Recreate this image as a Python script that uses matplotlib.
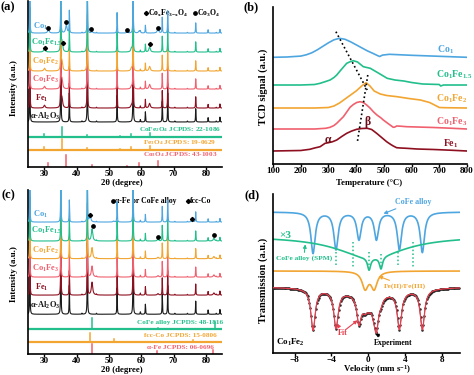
import numpy as np
import matplotlib
matplotlib.use('Agg')
import matplotlib.pyplot as plt

plt.rcParams['font.family'] = ['Liberation Serif', 'DejaVu Serif']
plt.rcParams['font.weight'] = 'bold'
plt.rcParams['mathtext.fontset'] = 'custom'
plt.rcParams['mathtext.rm'] = 'Liberation Serif:bold'
plt.rcParams['mathtext.it'] = 'Liberation Serif:italic:bold'
plt.rcParams['mathtext.bf'] = 'Liberation Serif:bold'
plt.rcParams['mathtext.default'] = 'rm'

# ---------------- data ----------------
samples = ['α-Al$_2$O$_3$', 'Fe$_1$', 'Co$_1$Fe$_3$', 'Co$_1$Fe$_2$', 'Co$_1$Fe$_{1.5}$', 'Co$_1$']
colors = ['#1a1a1a', '#8e1020', '#f0606e', '#f2a531', '#22bf8c', '#4ea6e0']

# alpha-Al2O3 support reflections (2theta, relative height)
support_pos = [25.58, 35.15, 37.78, 41.68, 43.36, 46.18, 52.55, 57.50, 59.74, 61.30,
               66.52, 68.21, 70.42, 74.30, 76.87, 80.70, 83.21, 84.36]
support_h = [2.4, 3.0, 1.2, 0.04, 3.0, 0.04, 1.1, 3.0, 0.1, 0.42,
             0.85, 1.2, 0.04, 0.04, 0.55, 0.18, 0.04, 0.2]
support_scale = [1.3, 1.1, 1.0, 1.0, 1.0, 1.0]

# (a) calcined: spinel and Co3O4 reflections
spinel_pos = [30.1, 35.5, 43.1, 57.0, 62.6]
spinel_h = [[0, 0, 0, 0, 0],
            [0.15, 0.5, 0.08, 0.15, 0.25],
            [0.15, 0.5, 0.08, 0.15, 0.25],
            [0.15, 0.5, 0.08, 0.15, 0.25],
            [0.2, 0.55, 0.1, 0.2, 0.28],
            [0, 0, 0, 0, 0]]
co3o4_pos = [31.3, 36.85, 44.8, 55.7, 59.4, 65.2]
co3o4_h = [[0] * 6, [0] * 6, [0] * 6, [0] * 6, [0] * 6,
           [0.2, 0.45, 0.08, 0.06, 0.12, 0.25]]

# (c) reduced: fcc-Co and bcc (alpha-Fe / CoFe) reflections
fcc_pos = [44.2, 51.5, 75.8]
fcc_h = [[0, 0, 0], [0, 0, 0], [0, 0, 0], [0, 0, 0], [0, 0, 0], [0.35, 0.05, 0.15]]
bcc_pos = [44.8, 65.2, 82.5]
bcc_h = [[0, 0, 0], [0.7, 0.08, 0.12], [0.6, 0.08, 0.12], [0.6, 0.08, 0.12],
         [0.65, 0.1, 0.15], [0, 0, 0]]

# reference patterns
refA_names = ['CoFe$_2$O$_4$ JCPDS: 22-1086', 'Fe$_3$O$_4$ JCPDS: 19-0629', 'Co$_3$O$_4$ JCPDS: 43-1003']
refA_pos = [[30.1, 35.4, 43.1, 53.4, 57.0, 62.6],
            [30.1, 35.4, 43.1, 53.4, 57.0, 62.6],
            [31.3, 36.85, 44.8, 55.7, 59.4, 65.2]]
refA_h = [[0.15, 0.55, 0.1, 0.04, 0.15, 0.2],
          [0.15, 0.6, 0.1, 0.04, 0.15, 0.2],
          [0.2, 0.63, 0.1, 0.05, 0.2, 0.3]]
refC_names = ['CoFe alloy JCPDS: 48-1816', 'fcc-Co JCPDS: 15-0806', 'α-Fe JCPDS: 06-0696']
refC_pos = [[44.9, 65.3, 82.7], [44.2, 51.5, 75.9], [44.7, 65.0, 82.3]]
refC_h = [[0.6, 0.08, 0.4], [0.5, 0.2, 0.13], [0.55, 0.15, 0.2]]
ref_colors = ['#22bf8c', '#f2a531', '#f0606e']

# phase markers
markA_circle_x = [31.3, 36.75, 44.5, 55.5, 65.3]
markA_circle_y = [7.46, 7.81, 7.40, 7.37, 7.46]
markA_diam_x = [30.3, 35.9, 62.7]
markA_diam_y = [6.41, 6.65, 6.60]
markC_diam_x = [44.2, 75.6]
markC_diam_y = [7.54, 7.35]
markC_circle_x = [45.0, 65.3, 82.6]
markC_circle_y = [6.94, 6.36, 6.45]

# (b) H2-TPR
tpr_names = ['Fe$_1$', 'Co$_1$Fe$_3$', 'Co$_1$Fe$_2$', 'Co$_1$Fe$_{1.5}$', 'Co$_1$']
tpr_colors = ['#8e1020', '#f0606e', '#f2a531', '#22bf8c', '#4ea6e0']
tpr_T = [
    [100, 200, 233, 250, 270, 288, 300, 315, 330, 348, 366, 384, 402, 420, 440, 456, 474, 492, 510,
     525, 534, 546, 560, 582, 620, 680, 740, 800],
    [100, 250, 290, 306, 320, 330, 342, 354, 366, 378, 390, 402, 414, 426, 438, 450, 462, 475, 490,
     498, 515, 534, 540, 546, 560, 582, 620, 680, 740, 800],
    [100, 250, 300, 320, 340, 360, 380, 400, 420, 436, 450, 465, 487, 510, 548, 590, 632, 665, 690,
     700, 720, 800],
    [100, 200, 250, 270, 290, 306, 320, 330, 345, 366, 380, 390, 405, 426, 451, 480, 512, 540, 572,
     600, 640, 700, 705, 715, 800],
    [100, 150, 200, 220, 240, 260, 280, 300, 320, 340, 360, 380, 400, 420, 440, 460, 475, 485, 495,
     520, 560, 600, 650, 700, 750, 800],
]
tpr_S = [
    [0, 0.5, 1.7, 3, 4.3, 7.7, 8.3, 9.3, 11, 14.5, 17.7, 20, 21.7, 22.5, 22.7, 21.5, 17.7, 13.5, 9.3,
     6.5, 5, 3.3, 3, 2.7, 2, 1.5, 0.8, 0],
    [0, 0, 0.7, 1.7, 3.5, 5.7, 9, 12.3, 17, 21.7, 24.5, 26.5, 27.3, 26.5, 24, 21, 17.3, 14, 11,
     9, 5.5, 1.7, 2, 3, 2.8, 2.3, 2, 1.5, 0.8, 0],
    [0, 0, 0.5, 2, 5, 9, 13, 17, 22, 25.3, 22, 17, 14, 12.5, 11.3, 9.5, 8, 5.5, 2, 0.5, 0.3, 0],
    [0, 0, 0.5, 1.7, 3.5, 5, 7.5, 10, 15, 21.7, 23.5, 24.3, 23, 18.3, 16.7, 12, 6.7, 5, 4,
     2.5, 1, 0.5, -1, 0, 0],
    [0, 0.3, 1.2, 2.5, 4.5, 7.5, 11, 14.5, 17.5, 19, 18, 15.5, 12.5, 9.5, 6.5, 4, 2, 0.8, 2.2,
     3, 2.5, 2, 1.5, 1, 0.5, 0],
]
tpr_guide1_T = [327, 440]
tpr_guide1_S = [132.3, 74]
tpr_guide2_T = [442, 404]
tpr_guide2_S = [89, 21.3]

# (d) Mossbauer components (velocity mm/s, depth)
sext_v = [-6.0, -3.5, -1.0, 0.9, 3.4, 5.9]
sext_d = [4.1, 3.7, 2.7, 2.7, 3.7, 4.0]
spm_center = [0.3]
spm_d = [2.2]
spm_dbl_v = [0.1, 1.4]
spm_dbl_d = [1.2, 1.2]
fe_dbl_v = [-0.33, 0.65]
fe_dbl_d = [1.69, 1.69]
spm_guides_v = [-3.5, -1.66, 0.11, 1.41, 3.23, 4.83]
spm_guides_top = [10.1, 11.1, 10.1, 9.9, 10.1, 11.1]
fit_weights = [1.0, 1 / 3, 0.75]


# ---------------- helpers ----------------
def lor(x, pos, h, w):
    y = np.zeros_like(x)
    for p, hh in zip(pos, h):
        y += hh / (1 + ((x - p) / w) ** 2)
    return y


W, H = 474, 375
fig = plt.figure(figsize=(W / 100, H / 100), dpi=100)


def ax_px(l, t, r, b):
    return fig.add_axes([l / W, 1 - b / H, (r - l) / W, (b - t) / H])


def ftext(x, y, s, **kw):
    fig.text(x / W, 1 - y / H, s, **kw)


def style(ax, ls=6.6):
    for s in ['top', 'right']:
        ax.spines[s].set_visible(False)
    for s in ['left', 'bottom']:
        ax.spines[s].set_linewidth(1.2)
    ax.set_yticks([])
    ax.tick_params(axis='x', direction='out', length=1.8, width=1, labelsize=ls, pad=0.6)
    for lab in ax.get_xticklabels():
        lab.set_fontweight('bold')


x2t = np.arange(25.0, 85.0, 0.01)


def xrd_panel(ax, extra, offsets, label_y, refnames, refpos, refh, refoff, ref_label_y):
    for i in range(6):
        y = lor(x2t, support_pos, np.array(support_h) * support_scale[i], 0.07)
        for pos, hs in extra:
            y += lor(x2t, pos, hs[i], 0.25)
        ax.plot(x2t, y + offsets[i], color=colors[i], lw=0.8, zorder=2 + i)
    for k in range(3):
        off = refoff[k]
        if off > 0:
            ax.axhline(off, color=ref_colors[k], lw=1.6, zorder=1)
        for p, hh in zip(refpos[k], refh[k]):
            ax.plot([p, p], [off, off + hh], color=ref_colors[k], lw=1.1, zorder=1)
        ax.text(72.0, ref_label_y[k], refnames[k], color=ref_colors[k], fontsize=5.2,
                ha='center', va='center', fontweight='bold')
    xs = [25.6, 27.2, 26.1, 26.1, 25.9, 26.6]
    for i in range(6):
        ax.text(xs[i], label_y[i], samples[i], color=colors[i], fontsize=6,
                ha='left', va='center', fontweight='bold', zorder=20)
    ax.set_xlim(25, 85)
    ax.set_xticks([30, 40, 50, 60, 70, 80])
    style(ax)


# ---------------- (a) ----------------
axa = ax_px(28, 1, 222, 167)
axa.set_ylim(0, 166 / 18.6)
xrd_panel(axa, [(spinel_pos, spinel_h), (co3o4_pos, co3o4_h)],
          [2.42, 3.17, 4.19, 5.16, 6.18, 7.2],
          [2.70, 3.69, 4.71, 5.70, 6.68, 7.58],
          refA_names, refA_pos, refA_h, [1.61, 0.91, 0.0], [2.03, 1.31, 0.65])
axa.plot(markA_circle_x, markA_circle_y, 'o', color='k', ms=2.4, zorder=30)
axa.plot(markA_diam_x, markA_diam_y, 'D', color='k', ms=2.1, zorder=30)
axa.plot([61.5], [8.26], 'D', color='k', ms=2.1, clip_on=False)
axa.text(62.2, 8.26, 'Co$_\\mathrm{x}$Fe$_{3\\mathrm{-x}}$O$_4$', fontsize=5.6, va='center', ha='left')
axa.plot([76.6], [8.26], 'o', color='k', ms=2.4, clip_on=False)
axa.text(77.4, 8.26, 'Co$_3$O$_4$', fontsize=5.6, va='center', ha='left')

# ---------------- (c) ----------------
axc = ax_px(28, 190, 222, 354)
axc.set_ylim(0, 164 / 18.4)
xrd_panel(axc, [(fcc_pos, fcc_h), (bcc_pos, bcc_h)],
          [2.16, 3.2, 4.18, 5.18, 6.14, 7.17],
          [2.65, 3.64, 4.64, 5.64, 6.72, 7.59],
          refC_names, refC_pos, refC_h, [1.34, 0.64, 0.0], [1.70, 1.03, 0.36])
axc.plot(markC_circle_x, markC_circle_y, 'o', color='k', ms=2.4, zorder=30)
axc.plot(markC_diam_x, markC_diam_y, 'D', color='k', ms=2.1, zorder=30)
axc.plot([51.2], [8.32], 'o', color='k', ms=2.4, clip_on=False)
axc.text(52.0, 8.32, 'α-Fe or CoFe alloy', fontsize=5.6, va='center', ha='left')
axc.plot([74.4], [8.32], 'D', color='k', ms=2.1, clip_on=False)
axc.text(75.2, 8.32, 'fcc-Co', fontsize=5.6, va='center', ha='left')

# ---------------- (b) ----------------
axb = ax_px(273, 7, 467, 164)
tpr_off = [13, 35, 56, 79, 106.7]
for i in range(5):
    axb.plot(tpr_T[i], np.array(tpr_S[i]) + tpr_off[i], color=tpr_colors[i], lw=1.2)
axb.plot(tpr_guide1_T, tpr_guide1_S, color='k', lw=1.2, ls=(0, (1, 1.6)))
axb.plot(tpr_guide2_T, tpr_guide2_S, color='k', lw=1.2, ls=(0, (1, 1.6)))
axb.text(297, 24, 'α', fontsize=8.5, ha='center', va='center', color='#6b0d18')
axb.text(439, 42.3, 'β', fontsize=8.5, ha='center', va='center', color='#6b0d18')
tpr_lab_T = [742, 746, 746, 755, 724]
tpr_lab_y = [20, 42.3, 65, 89, 114.7]
for i in range(5):
    axb.text(tpr_lab_T[i], tpr_lab_y[i], tpr_names[i], color=tpr_colors[i], fontsize=7,
             ha='center', va='center', clip_on=False)
axb.set_xlim(100, 800)
axb.set_ylim(0, 157)
axb.set_xticks(range(100, 801, 100))
style(axb)

# ---------------- (d) ----------------
axd = ax_px(273, 194, 460, 353)
v = np.linspace(-10.36, 10, 1200)
sw = 0.28
blue = lor(v, sext_v, sext_d, sw)
green = lor(v, spm_center, spm_d, 4.44) + lor(v, spm_dbl_v, spm_dbl_d, 0.2)
orange = lor(v, fe_dbl_v, fe_dbl_d, 0.4)
axd.plot(v, 14.1 - blue, color='#4ea6e0', lw=1.2)
axd.plot(v, 11.7 - green, color='#22bf8c', lw=1.2)
axd.plot(v, 8.2 - orange, color='#f2a531', lw=1.2)
for gv, gt in zip(spm_guides_v, spm_guides_top):
    axd.plot([gv, gv], [gt, 8.6], color='#22bf8c', lw=1.1, ls=(0, (1, 1.5)))
vexp = np.arange(-10.3, 10.0, 0.1)
fitf = lambda vv: 6.67 - (fit_weights[0] * lor(vv, sext_v, sext_d, sw)
                          + fit_weights[1] * (lor(vv, spm_center, spm_d, 4.44) + lor(vv, spm_dbl_v, spm_dbl_d, 0.2))
                          + fit_weights[2] * lor(vv, fe_dbl_v, fe_dbl_d, 0.4))
axd.plot(vexp, fitf(vexp), 'o', color='#222222', ms=1.8, mew=0, zorder=3)
axd.plot(vexp, fitf(vexp), color='#333333', lw=0.5, zorder=3)
axd.plot(v, fitf(v), color='#e8404f', lw=0.9, zorder=4)
arr = lambda c: dict(arrowstyle='-|>', color=c, lw=0.8, mutation_scale=5, shrinkA=0, shrinkB=0)
axd.annotate('CoFe alloy', xy=(1.67, 13.93), xytext=(4.86, 15.1), color='#4ea6e0', fontsize=5.8,
             ha='center', va='center', arrowprops=arr('#4ea6e0'))
axd.text(-9.05, 11.8, '×3', color='#22bf8c', fontsize=8, ha='center', va='center')
axd.annotate('CoFe alloy (SPM)', xy=(-6.85, 10.87), xytext=(-7.0, 9.5), color='#22bf8c', fontsize=5.3,
             ha='center', va='center', arrowprops=arr('#22bf8c'))
axd.annotate('Fe(II)/Fe(III)', xy=(1.13, 7.67), xytext=(4.0, 6.7), color='#f2a531', fontsize=5.3,
             ha='center', va='center', arrowprops=arr('#f2a531'))
axd.annotate('Fit', xy=(-3.4, 2.93), xytext=(-2.75, 2.03), color='#e8404f', fontsize=5.8,
             ha='center', va='center', arrowprops=arr('#e8404f'))
axd.annotate('', xy=(-1.15, 3.27), xytext=(-2.5, 2.3), arrowprops=arr('#e8404f'))
axd.annotate('Experiment', xy=(0.76, 1.93), xytext=(2.7, 1.03), color='k', fontsize=5.5,
             ha='center', va='center', arrowprops=arr('k'))
axd.text(-10.08, 1.1, 'Co$_1$Fe$_2$', fontsize=6.5, ha='left', va='center')
axd.set_xlim(-10.36, 10)
axd.set_ylim(0, 15.9)
axd.set_xticks([-8, -4, 0, 4, 8])
style(axd)

# ---------------- figure texts ----------------
ftext(8, 7, '(a)', fontsize=9, ha='center', va='center')
ftext(251, 7, '(b)', fontsize=9, ha='center', va='center')
ftext(8, 195, '(c)', fontsize=9, ha='center', va='center')
ftext(252, 195, '(d)', fontsize=9, ha='center', va='center')
ftext(122, 183, '2θ (degree)', fontsize=6.3, ha='center', va='center')
ftext(369, 183, 'Temperature (°C)', fontsize=6.3, ha='center', va='center')
ftext(122, 369.8, '2θ (degree)', fontsize=6.3, ha='center', va='center')
ftext(377, 369.6, 'Velocity (mm s$^{-1}$)', fontsize=6.4, ha='center', va='center')
ftext(14, 88, 'Intensity (a.u.)', fontsize=6.5, ha='center', va='center', rotation=90)
ftext(263, 87, 'TCD signal (a.u.)', fontsize=7.5, ha='center', va='center', rotation=90)
ftext(14, 274, 'Intensity (a.u.)', fontsize=6.5, ha='center', va='center', rotation=90)
ftext(263, 280, 'Transmission (a.u.)', fontsize=7.5, ha='center', va='center', rotation=90)

fig.savefig('out.png', dpi=100)
